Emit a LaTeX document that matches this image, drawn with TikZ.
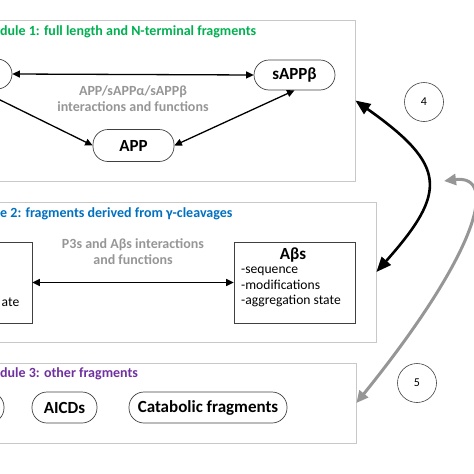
\documentclass[tikz,border=0pt]{standalone}
\usepackage{fontspec}
\setmainfont{Carlito}
\usetikzlibrary{arrows.meta}
\definecolor{modgreen}{RGB}{0,176,80}
\definecolor{modblue}{RGB}{0,112,192}
\definecolor{modpurple}{RGB}{112,48,160}
\definecolor{notegray}{RGB}{150,150,150}
\definecolor{framegray}{RGB}{200,200,200}
\begin{document}
\begin{tikzpicture}[x=1pt, y=-1pt,
  modbox/.style={draw=framegray, line width=0.8pt, rectangle, inner sep=0pt},
  pill/.style={draw=black!75, line width=0.7pt, rounded corners=15pt, minimum height=30pt, inner sep=0pt, font=\fontsize{17}{20}\selectfont\bfseries},
  fragbox/.style={draw=black!75, line width=0.7pt, rectangle, minimum width=121pt, minimum height=81pt, inner sep=0pt},
  title/.style={anchor=base west, inner sep=0pt, font=\fontsize{14}{16}\selectfont\bfseries},
  note/.style={align=center, inner sep=0pt, text=notegray, font=\fontsize{14}{16}\selectfont\bfseries},
  numcircle/.style={draw=black!75, line width=0.6pt, circle, minimum size=39pt, inner sep=0pt, font=\fontsize{12}{14}\selectfont},
  >={Triangle[length=7.5pt,width=7pt]},
  link/.style={line width=1.3pt},
  bigswap/.style={line width=2.6pt, {Triangle[length=15pt,width=12pt]}-{Triangle[length=15pt,width=12pt]}},
  grayswap/.style={line width=3pt, draw=notegray, {Triangle[length=12pt,width=11pt]}-{Triangle[length=12pt,width=11pt]}}]
  \useasboundingbox (0,0) rectangle (474,474);
  \clip (0,0) rectangle (474,474);

  % Module frames
  \node[modbox, minimum width=385pt, minimum height=161pt] (m1) at (162.5,100.5) {};
  \node[modbox, minimum width=406pt, minimum height=140pt] (m2) at (173,272) {};
  \node[modbox, minimum width=386pt, minimum height=80pt] (m3) at (163,403) {};

  % Titles
  \node[title, text=modgreen] (t1) at (0,35.5) {dule 1: full length and N-terminal fragments};
  \node[title, text=modblue] (t2) at (0,217.5) {e 2: fragments derived from γ-cleavages};
  \node[title, text=modpurple] (t3) at (0,377.5) {dule 3: other fragments};

  % Module 1
  \node[pill, minimum width=81pt] (salpha) at (-28.5,74) {};
  \node[pill, minimum width=81pt] (sbeta) at (294.5,75) {sAPPβ};
  \node[pill, minimum width=81pt, minimum height=32pt] (app) at (133.5,145.5) {APP};
  \node[note] (n1) at (133,99) {APP/sAPPα/sAPPβ\\interactions and functions};
  \coordinate (offleft) at (-10,95);
  \draw[link, <->] (salpha.east) -- (sbeta.west);
  \draw[link, ->] (offleft) -- (app.west);
  \draw[link, <->] (app.east) -- (sbeta.south);

  % Module 2
  \node[fragbox] (pbox) at (-28.5,282.5) {};
  \node[fragbox] (abox) at (294.5,282.5) {};
  \node[inner sep=0pt, anchor=east, font=\fontsize{13.6}{15.5}\selectfont] (pstate) at (19.5,302) {ate};
  \node[inner sep=0pt, font=\fontsize{17}{20}\selectfont\bfseries] (abname) at (293,255) {Aβs};
  \node[inner sep=0pt, anchor=west, align=left, font=\fontsize{13.6}{15.5}\selectfont] (ablist) at (241,287) {-sequence\\-modifications\\-aggregation state};
  \node[note] (n2) at (133,252) {P3s and Aβs interactions\\and functions};
  \draw[link, <->] (pbox.east) -- (abox.west);

  % Module 3
  \node[pill, minimum width=60pt, minimum height=31pt] (other) at (-26,407.5) {};
  \node[pill, minimum width=65pt, minimum height=31pt] (aicd) at (64.5,407.5) {AICDs};
  \node[pill, minimum width=158pt, minimum height=31pt] (catab) at (208,407.5) {Catabolic fragments};

  % Links between modules
  \node[numcircle] (c4) at (424,102) {4};
  \node[numcircle] (c5) at (417,383) {5};
  \coordinate (grayend) at (444,181);
  \draw[bigswap] (m1.east) .. controls +(92,65) and +(71,-80) .. (m2.east);
  \draw[grayswap] (m3.east) .. controls (476,255) and (500,174) .. (grayend);
\end{tikzpicture}
\end{document}
